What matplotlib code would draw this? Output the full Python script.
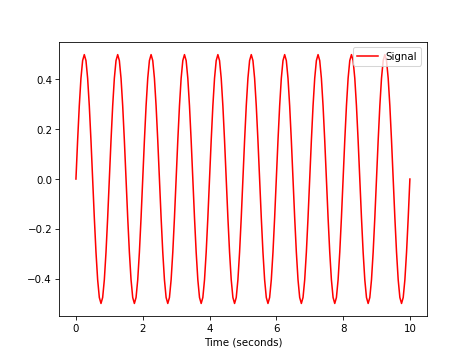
import numpy as np
from matplotlib import pyplot as plt

# one period of the signal, every 0.05 s
period_values = [0.0, 0.155, 0.294, 0.405, 0.476, 0.5, 0.476, 0.405, 0.294, 0.155,
                 0.0, -0.155, -0.294, -0.405, -0.476, -0.5, -0.476, -0.405, -0.294, -0.155]
n_periods = 10
step = 0.05

signal = np.append(np.tile(period_values, n_periods), 0.0)
t = np.arange(len(signal)) * step

fig = plt.figure(figsize=(6.4, 4.8), dpi=74.06)
plt.plot(t, signal, color='red', label='Signal')
plt.xlabel('Time (seconds)')
plt.legend(loc='upper right')
plt.savefig('out.png', dpi=74.06)
